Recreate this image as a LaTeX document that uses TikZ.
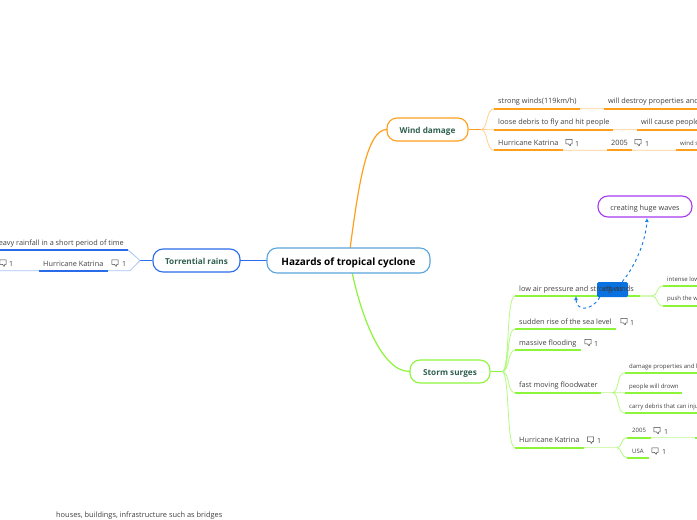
\documentclass[tikz,border=0pt]{standalone}
\usepackage{xcolor}
\usepackage{fontspec}
\setmainfont{Open Sans}
\usetikzlibrary{arrows.meta}
\definecolor{rootblue}{HTML}{5AA5DC}
\definecolor{rainblue}{HTML}{2A6BEA}
\definecolor{rainlight}{HTML}{A9C4F6}
\definecolor{windorange}{HTML}{FF9F1C}
\definecolor{windlight}{HTML}{FFD08F}
\definecolor{surgegreen}{HTML}{8CF53A}
\definecolor{surgelight}{HTML}{D2FBB0}
\definecolor{wavepurple}{HTML}{A63AF0}
\definecolor{linkblue}{HTML}{1F80E8}
\definecolor{effectblue}{HTML}{0A72E0}
\definecolor{topicgreen}{HTML}{2F5F50}
\definecolor{labelgrey}{HTML}{404040}
\tikzset{
  topicbox/.style={draw, line width=1.1pt, rounded corners=10pt, fill=white, align=center},
  maintopic/.style={topicbox, font=\bfseries\fontsize{8.2}{10}\selectfont, text=topicgreen,
    minimum height=23pt, text height=8pt, text depth=0pt},
  leaf/.style={anchor=base west, inner sep=0pt, text=labelgrey, font=\fontsize{7.3}{9}\selectfont},
  smallleaf/.style={leaf, font=\fontsize{6}{8}\selectfont},
  count/.style={leaf, font=\fontsize{7}{9}\selectfont},
  bar/.style={line width=1.8pt},
  thin link/.style={line width=0.8pt},
  dashlink/.style={linkblue, line width=1pt, dash pattern=on 3pt off 3pt, -{Latex[length=4pt,width=4pt]}},
}
% speech bubble used for the comment counters
\newcommand{\cmtmark}[2]{
  \draw[labelgrey, line width=0.5pt, line join=round]
    (#1-3.2,#2-3.2) -- (#1+3.2,#2-3.2) -- (#1+3.2,#2+1.4) -- (#1+1.8,#2+1.4)
    -- (#1+1.2,#2+3.4) -- (#1-0.6,#2+1.4) -- (#1-3.2,#2+1.4) -- cycle;
}
\begin{document}
\begin{tikzpicture}[x=1pt, y=-1pt]
  \useasboundingbox (0,0) rectangle (697,520);

  % branches from the root
  \coordinate (root west) at (267,260.5);
  \draw[rainblue, line width=1pt] (root west) -- (240,260.5) coordinate (rain east);
  \draw[windorange, line width=1.2pt] (350,249) .. controls (358,190) and (366,129) .. (387,129.5) coordinate (wind west);
  \draw[surgegreen, line width=1.2pt] (352,272) .. controls (360,310) and (380,372) .. (410,371.5) coordinate (surge west);

  \node[topicbox, draw=rootblue, minimum width=163pt, minimum height=25pt, text height=9pt, text depth=0pt,
        font=\bfseries\fontsize{10}{12}\selectfont] (root) at (348.5,260.5) {Hazards of tropical cyclone};
  \node[maintopic, draw=windorange, minimum width=81pt] (wind) at (427.5,129.5) {Wind damage};
  \node[maintopic, draw=rainblue, minimum width=87pt] (rain) at (196.5,260.5) {Torrential rains};
  \node[maintopic, draw=surgegreen, minimum width=80pt] (surge) at (450,371.5) {Storm surges};
  \node[topicbox, draw=wavepurple, minimum width=94pt, minimum height=21pt, text=labelgrey,
        text height=7pt, text depth=0pt, font=\fontsize{7.3}{9}\selectfont] (waves) at (645,206.5) {creating huge waves};

  % wind damage
  \coordinate (windfork) at (481,129.5);
  \draw[windorange, line width=1pt] (wind.east) -- (windfork);
  \draw[windlight, thin link]
    (windfork) .. controls (488,129.5) and (486,108.5) .. (494,108.8) coordinate (w1)
    (windfork) -- (494,129.8) coordinate (w2)
    (windfork) .. controls (488,129.5) and (486,150.3) .. (494,150.3) coordinate (w3)
    (w1) -- (697,108.8) (w2) -- (697,129.8) (w3) -- (697,150.3);
  \draw[windorange, bar]
    (w1) -- (580,108.8) (604,108.8) -- (697,108.8)
    (w2) -- (613,129.8) (637,129.8) -- (697,129.8)
    (w3) -- (563,150.3) (607,150.3) -- (632,150.3) (676,150.3) -- (697,150.3);
  \node[leaf] (winds) at (498,103) {strong winds(119km/h)};
  \node[leaf] (destroy) at (608,103) {will destroy properties and};
  \node[leaf] (debris) at (498,124) {loose debris to fly and hit people};
  \node[leaf] (injure) at (641,124) {will cause people};
  \node[leaf] (katrina) at (498,145) {Hurricane Katrina};
  \cmtmark{569}{142.5}
  \node[count] (katrina n) at (575,146) {1};
  \node[leaf] (year) at (611,145) {2005};
  \cmtmark{638}{142.5}
  \node[count] (year n) at (645,146) {1};
  \node[smallleaf] (speed) at (680,145) {wind s};

  % torrential rains
  \coordinate (rainfork) at (140,260.5);
  \draw[rainblue, line width=1pt] (rain.west) -- (rainfork);
  \draw[rainlight, thin link]
    (rainfork) -- (128,249.9) coordinate (r1)
    (rainfork) -- (130,270.7) coordinate (r2)
    (r2) -- (0,270.7);
  \draw[rainblue, bar] (r1) -- (0,249.9) (108,270.7) -- (39,270.7);
  \node[leaf, anchor=base east] (rainfall) at (124,245.2) {heavy rainfall in a short period of time};
  \node[leaf] (rain katrina) at (43,266) {Hurricane Katrina};
  \cmtmark{115}{263}
  \node[count] (rain katrina n) at (122,266) {1};
  \cmtmark{3}{263}
  \node[count] (rain left n) at (9,266) {1};

  % storm surges
  \coordinate (surgefork) at (502,371.5);
  \draw[surgegreen, line width=1.5pt] (surge.east) -- (surgefork);
  \draw[surgelight!60!surgegreen, thin link]
    (surgefork) .. controls (510,371.5) and (506,296) .. (515,296) coordinate (s1)
    (surgefork) .. controls (510,371.5) and (506,329) .. (515,329) coordinate (s2)
    (surgefork) .. controls (510,371.5) and (507,350.3) .. (515,350.3) coordinate (s3)
    (surgefork) .. controls (510,371.5) and (507,392.7) .. (515,392.7) coordinate (s4)
    (surgefork) .. controls (510,371.5) and (506,447.7) .. (515,447.7) coordinate (s5);
  \draw[surgelight, line width=1.3pt] (640,296) -- (652,296) coordinate (lowfork)
    (601,392.7) -- (612,392.7) coordinate (fastfork)
    (584,447.7) -- (617,447.7) coordinate (hurrfork)
    (651,437.7) -- (695,437.7);
  \draw[surgegreen, bar]
    (s1) -- (640,296) (s2) -- (616,329) (s3) -- (581,350.3) (s4) -- (601,392.7) (s5) -- (584,447.7);
  \draw[surgelight!60!surgegreen, thin link]
    (lowfork) .. controls (658,296) and (656,286) .. (663,286) coordinate (l1)
    (lowfork) .. controls (658,296) and (656,306) .. (663,306) coordinate (l2)
    (fastfork) .. controls (620,392.7) and (616,372.7) .. (625,372.7) coordinate (f1)
    (fastfork) -- (625,392.7) coordinate (f2)
    (fastfork) .. controls (620,392.7) and (616,413) .. (625,413) coordinate (f3)
    (hurrfork) .. controls (622,447.7) and (621,437.7) .. (627,437.7) coordinate (h1)
    (hurrfork) .. controls (622,447.7) and (621,457.7) .. (627,457.7) coordinate (h2);
  \draw[surgegreen, bar]
    (l1) -- (697,286) (l2) -- (697,306)
    (f1) -- (697,372.7) (f2) -- (682,392.7) (f3) -- (697,413)
    (h1) -- (651,437.7) (695,437.7) -- (697,437.7) (h2) -- (649,457.7);

  % effect label sits under the text of its topic
  \node[fill=effectblue, rounded corners=1.5pt, minimum width=31pt, minimum height=15pt,
        inner sep=0pt, text=linkblue!50!black, font=\fontsize{6.5}{8}\selectfont] (effects) at (612.5,289.5) {effects};
  \draw[dashlink]
    (effects.north east) ++(-6,0) coordinate (effects up) .. controls (636,265) and (646,240) .. (647,218);
  \draw[dashlink]
    (effects.south west) ++(3,0) coordinate (effects down) .. controls (590,313) and (576,310) .. (576,296);

  \node[leaf] (lowair) at (519,291) {low air pressure and strong winds};
  \node[leaf] (sudden) at (519,324) {sudden rise of the sea level};
  \cmtmark{624}{321.5}
  \node[count] (sudden n) at (630,325) {1};
  \node[leaf] (massive) at (519,345) {massive flooding};
  \cmtmark{588}{342.5}
  \node[count] (massive n) at (594,346) {1};
  \node[leaf] (fast) at (519,387) {fast moving floodwater};
  \node[leaf] (surge katrina) at (519,442.5) {Hurricane Katrina};
  \cmtmark{590.5}{440}
  \node[count] (surge katrina n) at (597,443.5) {1};
  \node[smallleaf] (intense) at (667,281) {intense low};
  \node[smallleaf] (push) at (667,300.5) {push the w};
  \node[smallleaf] (damage) at (629,368) {damage properties and l};
  \node[smallleaf] (drown) at (629,388) {people will drown};
  \node[smallleaf] (carry) at (629,408) {carry debris that can inju};
  \node[smallleaf] (surge year) at (632,432) {2005};
  \cmtmark{657}{430.5}
  \node[count] (surge year n) at (664,434) {1};
  \node[smallleaf] (usa) at (632,453) {USA};
  \cmtmark{655}{451}
  \node[count] (usa n) at (662,454.5) {1};

  \node[leaf, font=\fontsize{7.4}{9}\selectfont] (bridges) at (56,517) {houses, buildings, infrastructure such as bridges};
\end{tikzpicture}
\end{document}
